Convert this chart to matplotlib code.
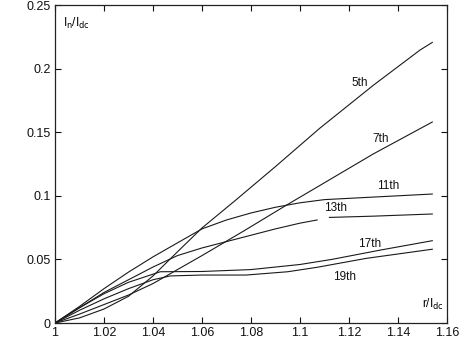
import numpy as np
import matplotlib
matplotlib.use('Agg')
import matplotlib.pyplot as plt

plt.rcParams['font.family'] = ['Liberation Sans', 'DejaVu Sans']

LINE = '#1a1a1a'

# harmonic currents In/Idc versus r/Idc
x5 = [1.0, 1.01, 1.02, 1.03, 1.04, 1.05, 1.06, 1.074, 1.09, 1.108, 1.13, 1.149, 1.154]
y5 = [0.0, 0.004, 0.011, 0.021, 0.037, 0.056, 0.0747, 0.097, 0.123, 0.153, 0.187, 0.2146, 0.2206]

x7 = [1.0, 1.01, 1.02, 1.03, 1.04, 1.05, 1.06, 1.077, 1.0945, 1.108, 1.13, 1.154]
y7 = [0.0, 0.007, 0.0145, 0.022, 0.031, 0.042, 0.053, 0.0723, 0.0927, 0.108, 0.133, 0.158]

x11 = [1.0, 1.01, 1.02, 1.03, 1.04, 1.05, 1.06, 1.07, 1.08, 1.09, 1.10, 1.11, 1.12, 1.13, 1.14, 1.154]
y11 = [0.0, 0.013, 0.027, 0.040, 0.052, 0.063, 0.074, 0.081, 0.0865, 0.091, 0.0945, 0.097, 0.098, 0.099, 0.100, 0.1014]

# the 13th trace has a short break just left of its label
x13 = [1.0, 1.01, 1.02, 1.03, 1.04, 1.05, 1.06, 1.07, 1.08, 1.09, 1.10, 1.107, 1.109, 1.112, 1.13, 1.154]
y13 = [0.0, 0.012, 0.024, 0.034, 0.044, 0.053, 0.059, 0.064, 0.069, 0.074, 0.0785, 0.081, np.nan, 0.083, 0.084, 0.0857]

x17 = [1.0, 1.01, 1.02, 1.03, 1.043, 1.06, 1.08, 1.10, 1.113, 1.133, 1.154]
y17 = [0.0, 0.012, 0.023, 0.032, 0.0403, 0.0405, 0.042, 0.046, 0.050, 0.0574, 0.0647]

x19 = [1.0, 1.01, 1.02, 1.03, 1.04, 1.047, 1.06, 1.078, 1.095, 1.107, 1.127, 1.154]
y19 = [0.0, 0.010, 0.019, 0.027, 0.034, 0.037, 0.0377, 0.0377, 0.0403, 0.0438, 0.0508, 0.058]

series = [(x5, y5), (x7, y7), (x11, y11), (x13, y13), (x17, y17), (x19, y19)]

labels = ['5th', '7th', '11th', '13th', '17th', '19th']
label_xy = [(1.1245, 0.1887), (1.1327, 0.1447), (1.1359, 0.1077),
            (1.1147, 0.0904), (1.1286, 0.0621), (1.1180, 0.0362)]

xticks = [1, 1.02, 1.04, 1.06, 1.08, 1.1, 1.12, 1.14, 1.16]
xticklabels = ['1', '1.02', '1.04', '1.06', '1.08', '1.1', '1.12', '1.14', '1.16']
yticks = [0, 0.05, 0.1, 0.15, 0.2, 0.25]
yticklabels = ['0', '0.05', '0.1', '0.15', '0.2', '0.25']

fig = plt.figure(figsize=(4.74, 3.54), dpi=100)
ax = fig.add_axes([55 / 474, 31 / 354, 392 / 474, 318 / 354])

for xs, ys in series:
   ax.plot(xs, ys, color=LINE, linewidth=0.8)

for lab, (lx, ly) in zip(labels, label_xy):
   ax.text(lx, ly, lab, fontsize=8.5, ha='center', va='center', color='#111')

ax.text(0.02, 0.965, r'I$_{\rm n}$/I$_{\rm dc}$', transform=ax.transAxes,
        fontsize=8.5, ha='left', va='top')
ax.text(0.935, 0.035, r'r/I$_{\rm dc}$', transform=ax.transAxes,
        fontsize=8.5, ha='left', va='bottom')

ax.set_xlim(1, 1.16)
ax.set_ylim(0, 0.25)
ax.set_xticks(xticks)
ax.set_xticklabels(xticklabels)
ax.set_yticks(yticks)
ax.set_yticklabels(yticklabels)
ax.tick_params(direction='in', length=4, width=0.8, top=True, right=True,
               labelsize=9, pad=3, colors='#111')
for s in ax.spines.values():
   s.set_linewidth(0.9)
   s.set_color('#222')

fig.savefig('out.png', dpi=100)
plt.close(fig)
